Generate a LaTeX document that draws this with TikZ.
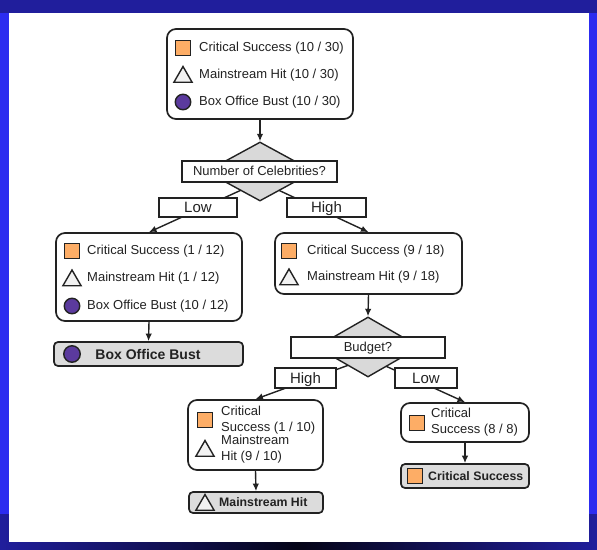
\documentclass[tikz,border=0pt]{standalone}
\usepackage{fontspec}
\setmainfont{Liberation Sans}
\usetikzlibrary{shapes.geometric,arrows.meta,calc}
\pgfdeclarelayer{bgl}
\pgfdeclarelayer{edges}
\pgfsetlayers{bgl,edges,main}
\definecolor{frametop}{HTML}{201E9C}
\definecolor{frameside}{HTML}{2C2CF0}
\definecolor{ink}{HTML}{222222}
\definecolor{orng}{HTML}{FDAD66}
\definecolor{purp}{HTML}{5B3A9E}
\definecolor{diagray}{HTML}{D9D9D9}
\definecolor{leafgray}{HTML}{DCDCDC}
\definecolor{trigray}{HTML}{F2F2F2}
\begin{document}
\begin{tikzpicture}[x=1pt,y=-1pt,
  box/.style={draw=ink, line width=1.7pt, rounded corners=9pt, fill=white, inner sep=0},
  leaf/.style={draw=ink, line width=1.7pt, rounded corners=4pt, fill=leafgray, inner sep=0},
  lbl/.style={draw=ink, line width=1.4pt, fill=white, inner sep=0, text=ink, font=\fontsize{15}{18}\selectfont, text height=12pt, text depth=2pt},
  qbox/.style={draw=ink, line width=1.4pt, fill=white, inner sep=0, text=ink, font=\fontsize{13}{16}\selectfont, text height=10.5pt, text depth=2.5pt},
  dia/.style={diamond, draw=ink, line width=1.4pt, fill=diagray, inner sep=0},
  sq/.style={draw=ink, line width=1.4pt, fill=orng, minimum size=14.5pt, inner sep=0},
  circ/.style={circle, draw=ink, line width=1.4pt, fill=purp, minimum size=15.5pt, inner sep=0},
  tri/.style={regular polygon, regular polygon sides=3, draw=ink, line width=1.4pt, fill=trigray, minimum size=21pt, inner sep=0},
  txt/.style={anchor=west, inner sep=0, text=ink, font=\fontsize{13}{16}\selectfont, align=left},
  ltxt/.style={anchor=west, inner sep=0, text=ink, font=\bfseries\fontsize{12.3}{15}\selectfont},
  arr/.style={draw=ink, line width=1.4pt, -{Latex[length=7.5pt,width=6.5pt]}}
]
\useasboundingbox (0,0) rectangle (597,549);
\begin{pgfonlayer}{bgl}
  \fill[frametop] (0,0) rectangle (597,549);
  \fill[frameside] (0,13) rectangle (9,514);
  \fill[frameside] (589,13) rectangle (597,514);
  \shade[left color=frametop, right color=frametop, middle color=black!85!frametop] (0,514) rectangle (597,549);
  \fill[white] (9,13) rectangle (589,542);
\end{pgfonlayer}

% root
\node[box, minimum width=186pt, minimum height=90pt] (root) at (260,74) {};
\node[sq] (r1i) at (183,48) {};
\node[txt] (r1t) at (199,48) {Critical Success (10 / 30)};
\node[tri] (r2i) at (183,77) {};
\node[txt] (r2t) at (199,75) {Mainstream Hit (10 / 30)};
\node[circ] (r3i) at (183,102) {};
\node[txt] (r3t) at (199,102) {Box Office Bust (10 / 30)};

% first split
\node[dia, minimum width=108pt, minimum height=59pt] (dia1) at (260,171.5) {};
\node[qbox, minimum width=155pt, minimum height=21pt] (q1) at (259.5,171.5) {Number of Celebrities?};
\coordinate (d1o) at ($(dia1.center)+(0,10)$);

% low child
\node[box, minimum width=186pt, minimum height=88pt] (c1) at (149,277) {};
\node[sq] (c1a) at (72,251) {};
\node[txt] (c1at) at (87,251) {Critical Success (1 / 12)};
\node[tri] (c1b) at (72,280.5) {};
\node[txt] (c1bt) at (87,278) {Mainstream Hit (1 / 12)};
\node[circ] (c1c) at (72,306) {};
\node[txt] (c1ct) at (87,306) {Box Office Bust (10 / 12)};

\node[leaf, minimum width=189pt, minimum height=24pt] (leaf1) at (148.5,354) {};
\node[circ, minimum size=16.5pt] (leaf1i) at (72,354) {};
\node[inner sep=0, text=ink, font=\bfseries\fontsize{14}{16}\selectfont] (leaf1t) at (148,354) {Box Office Bust};

% high child
\node[box, minimum width=187pt, minimum height=61pt] (c2) at (368.5,263.5) {};
\node[sq] (c2a) at (289,251) {};
\node[txt] (c2at) at (307,251) {Critical Success (9 / 18)};
\node[tri] (c2b) at (289,279.5) {};
\node[txt] (c2bt) at (307,277) {Mainstream Hit (9 / 18)};

% second split
\node[dia, minimum width=104pt, minimum height=60pt] (dia2) at (368,347) {};
\node[qbox, minimum width=154pt, minimum height=21pt] (q2) at (368,347.5) {Budget?};
\coordinate (d2o) at ($(dia2.center)+(0,11)$);

% budget high child
\node[box, minimum width=135pt, minimum height=70pt] (c3) at (255.5,435) {};
\node[sq] (c3a) at (205,420) {};
\node[txt] (c3at) at (221,420) {Critical\\Success (1 / 10)};
\node[tri] (c3b) at (205,451) {};
\node[txt] (c3bt) at (221,449.5) {Mainstream\\Hit (9 / 10)};

\node[leaf, minimum width=134pt, minimum height=21pt] (leaf3) at (256,502.5) {};
\node[tri, minimum size=21pt] (leaf3i) at (205,505) {};
\node[ltxt] (leaf3t) at (219,502.5) {Mainstream Hit};

% budget low child
\node[box, minimum width=128pt, minimum height=39pt] (c4) at (465,422.5) {};
\node[sq] (c4a) at (417,423) {};
\node[txt] (c4at) at (431,422.5) {Critical\\Success (8 / 8)};

\node[leaf, minimum width=128pt, minimum height=24pt] (leaf4) at (465,476) {};
\node[sq, minimum size=15.5pt] (leaf4i) at (415,476) {};
\node[ltxt] (leaf4t) at (428,476) {Critical Success};

% edge labels
\node[lbl, minimum width=78pt, minimum height=19pt] (l1) at (198,207.5) {Low};
\node[lbl, minimum width=79pt, minimum height=19pt] (h1) at (326.5,207.5) {High};
\node[lbl, minimum width=61pt, minimum height=20pt] (h2) at (305.5,378) {High};
\node[lbl, minimum width=62pt, minimum height=20pt] (l2) at (426,378) {Low};

\begin{pgfonlayer}{edges}
  \draw[arr] (root.south) -- (dia1.north);
  \draw[arr] (d1o) -- (c1.north);
  \draw[arr] (d1o) -- (c2.north);
  \draw[arr] (c1.south) -- (leaf1.north);
  \draw[arr] (c2.south) -- (dia2.north);
  \draw[arr] (d2o) -- (c3.north);
  \draw[arr] (d2o) -- (c4.north);
  \draw[arr] (c3.south) -- (leaf3.north);
  \draw[arr] (c4.south) -- (leaf4.north);
\end{pgfonlayer}
\end{tikzpicture}
\end{document}
